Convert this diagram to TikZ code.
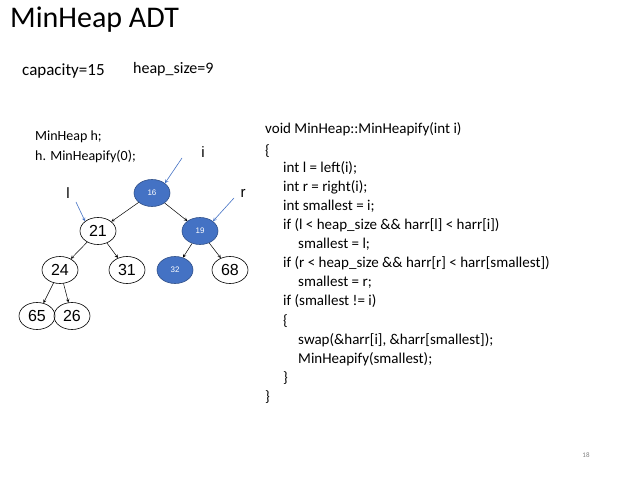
\documentclass[tikz,border=0pt]{standalone}
\usepackage{fontspec}
\usetikzlibrary{shapes.geometric}
\setmainfont{Carlito}
\newfontfamily\arialf{Liberation Sans}
\definecolor{accent}{HTML}{4472C4}
\begin{document}
\begin{tikzpicture}[x=1pt,y=-1pt,
 nd/.style={ellipse,draw,line width=0.6pt,minimum width=36pt,minimum height=27pt,inner sep=0pt,font=\arialf\fontsize{16}{16}\selectfont},
 bnd/.style={nd,fill=accent,draw=accent!70!black,text=white,font=\arialf\fontsize{8}{8}\selectfont},
 ed/.style={->,>=stealth,line width=0.5pt},
 bl/.style={->,>=stealth,draw=accent,line width=0.6pt},
 tx/.style={anchor=west,inner sep=0pt,font=\fontsize{15}{15}\selectfont}]
\useasboundingbox (0,0) rectangle (638,478);
\node[anchor=west,inner sep=0pt,font=\fontsize{30}{30}\selectfont] (title) at (10,20) {MinHeap ADT};
\node[tx,font=\fontsize{17}{17}\selectfont] (cap) at (22,71) {capacity=15};
\node[tx,font=\fontsize{16}{16}\selectfont] (hs) at (133,69) {heap\_size=9};
\node[tx,font=\fontsize{14}{14}\selectfont] (h1) at (35,137) {MinHeap h;};
\node[tx,font=\fontsize{14}{14}\selectfont] (h2) at (35,157) {h. MinHeapify(0);};
\node[bnd] (n16) at (152,193) {16};
\node[nd] (n21) at (98,231) {21};
\node[bnd] (n19) at (200,231) {19};
\node[nd] (n24) at (60,270) {24};
\node[nd] (n31) at (127,270) {31};
\node[bnd] (n32) at (175,270) {32};
\node[nd] (n68) at (230,270) {68};
\node[nd] (n65) at (37,316) {65};
\node[nd] (n26) at (72,316) {26};
\draw[ed] (n16) -- (n21); \draw[ed] (n16) -- (n19);
\draw[ed] (n21) -- (n24); \draw[ed] (n21) -- (n31);
\draw[ed] (n19) -- (n32); \draw[ed] (n19) -- (n68);
\draw[ed] (n24) -- (n65); \draw[ed] (n24) -- (n26);
\node[font=\arialf\fontsize{15}{15}\selectfont] (li) at (203,152) {i};
\node[font=\arialf\fontsize{15}{15}\selectfont] (ll) at (68,193) {l};
\node[font=\arialf\fontsize{15}{15}\selectfont] (lr) at (243,193) {r};
\coordinate (ai) at (182,158); \coordinate (al) at (76,202); \coordinate (ar) at (234,198);
\draw[bl] (ai) -- (n16.north east);
\draw[bl] (al) -- (n21.north west);
\draw[bl] (ar) -- (n19.north east);
\node[tx] (c1) at (265,129) {void MinHeap::MinHeapify(int i)};
\node[tx] (c2) at (265,151) {\{};
\node[tx] (c3) at (283,168) {int l = left(i);};
\node[tx] (c4) at (283,187) {int r = right(i);};
\node[tx] (c5) at (283,206) {int smallest = i;};
\node[tx] (c6) at (283,225) {if (l < heap\_size \&\& harr[l] < harr[i])};
\node[tx] (c7) at (298,244) {smallest = l;};
\node[tx] (c8) at (283,263) {if (r < heap\_size \&\& harr[r] < harr[smallest])};
\node[tx] (c9) at (298,282) {smallest = r;};
\node[tx] (c10) at (283,301) {if (smallest != i)};
\node[tx] (c11) at (283,321) {\{};
\node[tx] (c12) at (298,340) {swap(\&harr[i], \&harr[smallest]);};
\node[tx] (c13) at (298,359) {MinHeapify(smallest);};
\node[tx] (c14) at (283,378) {\}};
\node[tx] (c15) at (265,397) {\}};
\node[font=\fontsize{7}{7}\selectfont,text=gray] (pg) at (586,455) {18};
\end{tikzpicture}
\end{document}
